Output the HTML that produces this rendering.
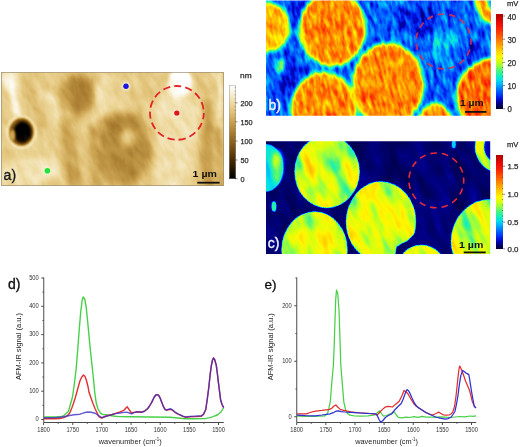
<!DOCTYPE html>
<html><head><meta charset="utf-8"><title>AFM-IR figure</title>
<style>
html,body{margin:0;padding:0;background:#fff;}
body{width:520px;height:447px;overflow:hidden;position:relative;}
svg{position:absolute;left:0;top:0;}
text{font-family:'Liberation Sans',Arial,sans-serif;}
</style></head><body>
<svg width="520" height="447" viewBox="0 0 520 447">
<defs>
<filter id="fA" filterUnits="userSpaceOnUse" x="-60" y="0" width="360" height="260" color-interpolation-filters="sRGB">
<feOffset in="SourceGraphic" dx="0" dy="0" result="bl"/>
<feTurbulence type="fractalNoise" baseFrequency="0.12 0.05" numOctaves="3" seed="7" result="nz"/>
<feColorMatrix in="nz" type="matrix" values="1 0 0 0 0  1 0 0 0 0  1 0 0 0 0  0 0 0 0 1" result="ng"/>
<feComposite in="bl" in2="ng" operator="arithmetic" k1="0" k2="1" k3="0.18" k4="-0.09" result="v"/>
<feComponentTransfer in="v"><feFuncR type="table" tableValues="0 0.14 0.28 0.42 0.55 0.67 0.78 0.87 0.93 0.97 1"/><feFuncG type="table" tableValues="0 0.08 0.17 0.28 0.39 0.5 0.62 0.74 0.84 0.93 1"/><feFuncB type="table" tableValues="0 0 0.02 0.06 0.12 0.2 0.3 0.44 0.6 0.8 1"/><feFuncA type="table" tableValues="1 1"/></feComponentTransfer>
</filter>
<filter id="fB" filterUnits="userSpaceOnUse" x="200" y="-100" width="360" height="320" color-interpolation-filters="sRGB">
<feGaussianBlur in="SourceGraphic" stdDeviation="2.1" result="bl"/>
<feTurbulence type="fractalNoise" baseFrequency="0.24 0.08" numOctaves="3" seed="3" result="nz"/>
<feColorMatrix in="nz" type="matrix" values="1 0 0 0 0  1 0 0 0 0  1 0 0 0 0  0 0 0 0 1" result="ng"/>
<feComposite in="bl" in2="ng" operator="arithmetic" k1="0.15" k2="0.93" k3="0.32" k4="-0.16" result="v"/>
<feComponentTransfer in="v"><feFuncR type="table" tableValues="0 0 0 0 0 0 0 0.1 0.3 0.6 0.85 1 1 1 1 1 1 0.98 0.93 0.82 0.68"/><feFuncG type="table" tableValues="0 0 0.05 0.25 0.45 0.68 0.88 0.95 0.95 1 1 0.97 0.85 0.7 0.55 0.4 0.25 0.12 0.05 0.02 0"/><feFuncB type="table" tableValues="0.2 0.5 0.85 1 1 1 0.92 0.7 0.5 0.25 0.05 0 0 0 0 0 0 0.02 0.03 0 0"/><feFuncA type="table" tableValues="1 1"/></feComponentTransfer>
</filter>
<filter id="fC" filterUnits="userSpaceOnUse" x="200" y="40" width="360" height="320" color-interpolation-filters="sRGB">
<feGaussianBlur in="SourceGraphic" stdDeviation="0.6" result="bl"/>
<feTurbulence type="fractalNoise" baseFrequency="0.07 0.025" numOctaves="3" seed="11" result="nz"/>
<feColorMatrix in="nz" type="matrix" values="1 0 0 0 0  1 0 0 0 0  1 0 0 0 0  0 0 0 0 1" result="ng"/>
<feComposite in="bl" in2="ng" operator="arithmetic" k1="0.7" k2="0.65" k3="0.05" k4="-0.03" result="v"/>
<feComponentTransfer in="v"><feFuncR type="table" tableValues="0 0 0 0 0 0 0 0.1 0.3 0.6 0.85 1 1 1 1 1 1 0.98 0.93 0.82 0.68"/><feFuncG type="table" tableValues="0 0 0.05 0.25 0.45 0.68 0.88 0.95 0.95 1 1 0.97 0.85 0.7 0.55 0.4 0.25 0.12 0.05 0.02 0"/><feFuncB type="table" tableValues="0.2 0.5 0.85 1 1 1 0.92 0.7 0.5 0.25 0.05 0 0 0 0 0 0 0.02 0.03 0 0"/><feFuncA type="table" tableValues="1 1"/></feComponentTransfer>
</filter>
<filter id="fCbA" x="0" y="0" width="1" height="1" color-interpolation-filters="sRGB">
<feOffset in="SourceGraphic" dx="0" dy="0" result="bl"/>
<feComponentTransfer in="bl"><feFuncR type="table" tableValues="0 0.14 0.28 0.42 0.55 0.67 0.78 0.87 0.93 0.97 1"/><feFuncG type="table" tableValues="0 0.08 0.17 0.28 0.39 0.5 0.62 0.74 0.84 0.93 1"/><feFuncB type="table" tableValues="0 0 0.02 0.06 0.12 0.2 0.3 0.44 0.6 0.8 1"/><feFuncA type="table" tableValues="1 1"/></feComponentTransfer>
</filter>
<filter id="fCbJ" x="0" y="0" width="1" height="1" color-interpolation-filters="sRGB">
<feOffset in="SourceGraphic" dx="0" dy="0" result="bl"/>
<feComponentTransfer in="bl"><feFuncR type="table" tableValues="0 0 0 0 0 0 0 0.1 0.3 0.6 0.85 1 1 1 1 1 1 0.98 0.93 0.82 0.68"/><feFuncG type="table" tableValues="0 0 0.05 0.25 0.45 0.68 0.88 0.95 0.95 1 1 0.97 0.85 0.7 0.55 0.4 0.25 0.12 0.05 0.02 0"/><feFuncB type="table" tableValues="0.2 0.5 0.85 1 1 1 0.92 0.7 0.5 0.25 0.05 0 0 0 0 0 0 0.02 0.03 0 0"/><feFuncA type="table" tableValues="1 1"/></feComponentTransfer>
</filter>
<filter id="b1" x="-50%" y="-50%" width="200%" height="200%" color-interpolation-filters="sRGB"><feGaussianBlur stdDeviation="1"/></filter>
<filter id="b2" x="-50%" y="-50%" width="200%" height="200%" color-interpolation-filters="sRGB"><feGaussianBlur stdDeviation="2"/></filter>
<filter id="b3" x="-50%" y="-50%" width="200%" height="200%" color-interpolation-filters="sRGB"><feGaussianBlur stdDeviation="3"/></filter>
<filter id="b5" x="-50%" y="-50%" width="200%" height="200%" color-interpolation-filters="sRGB"><feGaussianBlur stdDeviation="5"/></filter>
<linearGradient id="vg" x1="0" y1="0" x2="0" y2="1"><stop offset="0" stop-color="#fff"/><stop offset="1" stop-color="#000"/></linearGradient>
<clipPath id="clipA"><rect x="1" y="72" width="223" height="114"/></clipPath>
<clipPath id="clipB"><rect x="266" y="0.6" width="224.8" height="115.1"/></clipPath>
<clipPath id="clipC"><rect x="266" y="141.3" width="224.2" height="112.8"/></clipPath>
</defs>
<g clip-path="url(#clipA)"><g filter="url(#fA)" transform="rotate(-25 112 129)"><g transform="rotate(25 112 129)">
<rect x="-10" y="60" width="250" height="140" fill="#c2c2c2"/>
<ellipse cx="12" cy="80" rx="13" ry="10" fill="#e0e0e0" filter="url(#b3)"/>
<path d="M4 72 L11 72 L22 116 L15 116 Z" fill="#f2f2f2" filter="url(#b2)"/>
<path d="M20 72 L32 72 L44 130 L32 130 Z" fill="#b2b2b2" filter="url(#b3)"/>
<path d="M44 92 L54 92 L68 136 L58 136 Z" fill="#d6d6d6" filter="url(#b3)"/>
<ellipse cx="79" cy="95" rx="17" ry="21" fill="#878787" filter="url(#b5)"/>
<ellipse cx="85" cy="90" rx="7" ry="10" fill="#808080" filter="url(#b3)"/>
<ellipse cx="104" cy="98" rx="8" ry="24" fill="#d6d6d6" filter="url(#b3)"/>
<ellipse cx="118" cy="122" rx="20" ry="9" fill="#9e9e9e" filter="url(#b3)"/>
<ellipse cx="124" cy="150" rx="27" ry="36" fill="#878787" filter="url(#b5)"/>
<ellipse cx="128" cy="138" rx="7" ry="9" fill="#c7c7c7" filter="url(#b3)"/>
<path d="M60 118 L72 118 L82 190 L68 190 Z" fill="#999999" filter="url(#b3)"/>
<path d="M88 126 L98 126 L104 190 L92 190 Z" fill="#999999" filter="url(#b3)"/>
<path d="M200 100 L212 100 L216 190 L202 190 Z" fill="#999999" filter="url(#b3)"/>
<path d="M214 128 L222 128 L226 190 L216 190 Z" fill="#a3a3a3" filter="url(#b2)"/>
<path d="M218 72 L222 72 L222 118 L218 118 Z" fill="#dbdbdb" filter="url(#b1)"/>
<ellipse cx="178" cy="118" rx="24" ry="26" fill="#d6d6d6" filter="url(#b5)"/>
<path d="M156 128 L192 128 L192 190 L156 190 Z" fill="#d4d4d4" filter="url(#b3)"/>
<ellipse cx="24" cy="172" rx="26" ry="15" fill="#d6d6d6" filter="url(#b3)"/>
<ellipse cx="46" cy="168" rx="12" ry="12" fill="#e0e0e0" filter="url(#b3)"/>
<ellipse cx="180" cy="90" rx="14" ry="10" fill="#e0e0e0" filter="url(#b3)"/>
<ellipse cx="180" cy="83" rx="11.5" ry="13" fill="#ffffff" filter="url(#b2)"/>
<ellipse cx="180" cy="80" rx="10" ry="12" fill="#ffffff" filter="url(#b1)"/>
<ellipse cx="21.5" cy="132" rx="15" ry="16.5" fill="#ebebeb" filter="url(#b1)"/>
<ellipse cx="21.5" cy="132" rx="12.3" ry="14" fill="#545454" filter="url(#b1)"/>
<ellipse cx="22.5" cy="132.3" rx="9" ry="10.5" fill="#050505" filter="url(#b1)"/>
<ellipse cx="12.5" cy="135" rx="2.8" ry="5.5" fill="#a8a8a8" filter="url(#b1)"/>
</g></g></g>
<rect x="1.5" y="72.5" width="222" height="113" fill="none" stroke="#9a8c70" stroke-width="0.9" opacity="0.75"/>
<circle cx="176.9" cy="112.9" r="26.9" fill="none" stroke="#e42228" stroke-width="1.8" stroke-dasharray="7.21 4.06" stroke-dashoffset="0.79"/>
<circle cx="176.8" cy="113" r="4.6" fill="#fff0e4" opacity="0.55" filter="url(#b1)"/>
<circle cx="126" cy="86.3" r="4.6" fill="#fffaea" opacity="0.6" filter="url(#b1)"/>
<circle cx="47.4" cy="170.8" r="4.8" fill="#f4f8d0" opacity="0.55" filter="url(#b1)"/>
<circle cx="176.8" cy="113" r="2.6" fill="#e01414"/>
<circle cx="126" cy="86.3" r="2.7" fill="#1616e0"/>
<circle cx="47.4" cy="170.8" r="2.8" fill="#22e23e"/>
<text x="3.6" y="179.8" font-size="14" fill="#1a1a1a" stroke="#1a1a1a" stroke-width="0.35">a)</text>
<text x="192.6" y="177.3" font-size="9.4" fill="#111" textLength="24.3" lengthAdjust="spacingAndGlyphs" font-weight="bold">1 µm</text>
<rect x="197.3" y="181.8" width="22.3" height="1.8" fill="#111"/>
<rect x="229.5" y="85.7" width="6" height="93" fill="url(#vg)" filter="url(#fCbA)"/>
<rect x="229.5" y="85.7" width="6" height="93" fill="none" stroke="#999" stroke-width="0.5"/>
<line x1="235.2" x2="235.2" y1="87" y2="178" stroke="#555" stroke-width="0.8" stroke-dasharray="0.8 3" opacity="0.7"/>
<text x="240.1" y="77.8" font-size="7.5" fill="#2a2a2a" textLength="11.6" lengthAdjust="spacingAndGlyphs" stroke="#2a2a2a" stroke-width="0.25">nm</text>
<text x="240.4" y="105.9" font-size="7.6" fill="#2a2a2a" textLength="12.21" lengthAdjust="spacingAndGlyphs" stroke="#2a2a2a" stroke-width="0.25">200</text>
<line x1="235.5" x2="237.5" y1="102.8" y2="102.8" stroke="#555" stroke-width="0.7"/>
<text x="240.4" y="124.9" font-size="7.6" fill="#2a2a2a" textLength="12.21" lengthAdjust="spacingAndGlyphs" stroke="#2a2a2a" stroke-width="0.25">150</text>
<line x1="235.5" x2="237.5" y1="121.8" y2="121.8" stroke="#555" stroke-width="0.7"/>
<text x="240.4" y="144.2" font-size="7.6" fill="#2a2a2a" textLength="12.21" lengthAdjust="spacingAndGlyphs" stroke="#2a2a2a" stroke-width="0.25">100</text>
<line x1="235.5" x2="237.5" y1="141.1" y2="141.1" stroke="#555" stroke-width="0.7"/>
<text x="240.4" y="163.1" font-size="7.6" fill="#2a2a2a" textLength="8.14" lengthAdjust="spacingAndGlyphs" stroke="#2a2a2a" stroke-width="0.25">50</text>
<line x1="235.5" x2="237.5" y1="160" y2="160" stroke="#555" stroke-width="0.7"/>
<text x="240.4" y="181.8" font-size="7.6" fill="#2a2a2a" textLength="4.07" lengthAdjust="spacingAndGlyphs" stroke="#2a2a2a" stroke-width="0.25">0</text>
<line x1="235.5" x2="237.5" y1="178.7" y2="178.7" stroke="#555" stroke-width="0.7"/>
<g clip-path="url(#clipB)"><g filter="url(#fB)" transform="rotate(-12 378 58)"><g transform="rotate(12 378 58)">
<rect x="250" y="-10" width="260" height="140" fill="#2e2e2e"/>
<ellipse cx="290" cy="80" rx="12" ry="25" fill="#1a1a1a" filter="url(#b3)"/>
<ellipse cx="300" cy="10" rx="10" ry="14" fill="#1c1c1c" filter="url(#b3)"/>
<ellipse cx="420" cy="20" rx="20" ry="14" fill="#1c1c1c" filter="url(#b3)"/>
<ellipse cx="445" cy="45" rx="16" ry="18" fill="#424242" filter="url(#b5)"/>
<ellipse cx="470" cy="60" rx="10" ry="20" fill="#1f1f1f" filter="url(#b3)"/>
<ellipse cx="280.5" cy="66" rx="3" ry="6.5" fill="#a3a3a3" />
<ellipse cx="267.5" cy="27.2" rx="22" ry="24.5" fill="#a1a1a1" />
<ellipse cx="332.5" cy="29" rx="33" ry="37" fill="#b2b2b2" />
<ellipse cx="388" cy="85" rx="35.2" ry="41.8" fill="#b2b2b2" />
<ellipse cx="323.4" cy="109.4" rx="32.3" ry="37" fill="#b2b2b2" />
<ellipse cx="495" cy="96" rx="38.5" ry="37.5" fill="#bdbdbd" />
<ellipse cx="435" cy="130" rx="18.5" ry="26.5" fill="#b2b2b2" />
<ellipse cx="501.5" cy="0" rx="25.5" ry="26" fill="#bababa" />
<ellipse cx="502" cy="-2" rx="15.5" ry="19" fill="#333333" />
</g></g></g>
<circle cx="443.6" cy="41.4" r="27.4" fill="none" stroke="#d83048" stroke-width="1.7" stroke-dasharray="6.54 4.94" stroke-dashoffset="3.27" opacity="0.9"/>
<text x="268.5" y="110" font-size="14" fill="#eef2ff" stroke="#eef2ff" stroke-width="0.4">b)</text>
<text x="460" y="106.4" font-size="9.4" fill="#111" textLength="23.7" lengthAdjust="spacingAndGlyphs" font-weight="bold">1 µm</text>
<rect x="465" y="111" width="21.5" height="1.8" fill="#111"/>
<rect x="496.2" y="14" width="6.7" height="94.5" fill="url(#vg)" filter="url(#fCbJ)"/>
<line x1="502.6" x2="502.6" y1="16" y2="108.8" stroke="#444" stroke-width="0.9" stroke-dasharray="0.9 3.74" opacity="0.8"/>
<text x="507" y="6.4" font-size="7.3" fill="#2a2a2a" textLength="11.4" lengthAdjust="spacingAndGlyphs" stroke="#2a2a2a" stroke-width="0.25">mV</text>
<text x="507.5" y="19.5" font-size="8.3" fill="#2a2a2a" textLength="8.7" lengthAdjust="spacingAndGlyphs" stroke="#2a2a2a" stroke-width="0.25">40</text>
<line x1="503.2" x2="505" y1="16" y2="16" stroke="#555" stroke-width="0.7"/>
<text x="507.5" y="42.7" font-size="8.3" fill="#2a2a2a" textLength="8.7" lengthAdjust="spacingAndGlyphs" stroke="#2a2a2a" stroke-width="0.25">30</text>
<line x1="503.2" x2="505" y1="39.2" y2="39.2" stroke="#555" stroke-width="0.7"/>
<text x="507.5" y="65.9" font-size="8.3" fill="#2a2a2a" textLength="8.7" lengthAdjust="spacingAndGlyphs" stroke="#2a2a2a" stroke-width="0.25">20</text>
<line x1="503.2" x2="505" y1="62.4" y2="62.4" stroke="#555" stroke-width="0.7"/>
<text x="507.5" y="89.1" font-size="8.3" fill="#2a2a2a" textLength="8.7" lengthAdjust="spacingAndGlyphs" stroke="#2a2a2a" stroke-width="0.25">10</text>
<line x1="503.2" x2="505" y1="85.6" y2="85.6" stroke="#555" stroke-width="0.7"/>
<text x="507.5" y="112.3" font-size="8.3" fill="#2a2a2a" textLength="4.35" lengthAdjust="spacingAndGlyphs" stroke="#2a2a2a" stroke-width="0.25">0</text>
<line x1="503.2" x2="505" y1="108.8" y2="108.8" stroke="#555" stroke-width="0.7"/>
<g clip-path="url(#clipC)"><g filter="url(#fC)" transform="rotate(-22 378 197)"><g transform="rotate(22 378 197)">
<rect x="250" y="130" width="260" height="140" fill="#0b0b0b"/>
<ellipse cx="300" cy="200" rx="14" ry="20" fill="#0a0a0a" filter="url(#b3)"/>
<ellipse cx="440" cy="215" rx="14" ry="20" fill="#0d0d0d" filter="url(#b3)"/>
<ellipse cx="274" cy="206.4" rx="2.4" ry="5.2" fill="#5c5c5c" />
<ellipse cx="453.8" cy="144.3" rx="2.2" ry="4" fill="#4c4c4c" />
<ellipse cx="265.7" cy="167.9" rx="17.8" ry="23.9" fill="#545454" />
<ellipse cx="277" cy="166" rx="5" ry="16" fill="#7a7a7a" filter="url(#b2)"/>
<ellipse cx="327" cy="171.6" rx="32.5" ry="36.2" fill="#828282" />
<ellipse cx="381" cy="221.6" rx="35" ry="40" fill="#828282" />
<path d="M415 233 L422 238 L412 256 L395 256 L396.5 247 L402 243.5 L407 241 Z" fill="#0b0b0b" />
<ellipse cx="314.5" cy="249.7" rx="33" ry="38" fill="#828282" />
<ellipse cx="491" cy="241" rx="40" ry="42" fill="#828282" />
<ellipse cx="421.5" cy="271" rx="25" ry="26" fill="#828282" />
<ellipse cx="501" cy="147" rx="26" ry="26" fill="#6e6e6e" />
<ellipse cx="501" cy="147" rx="17" ry="17" fill="#121212" />
</g></g></g>
<circle cx="436.3" cy="180.4" r="27.4" fill="none" stroke="#e82a3a" stroke-width="1.6" stroke-dasharray="6.54 4.94" stroke-dashoffset="3.27" opacity="1"/>
<text x="267.8" y="247.9" font-size="14" fill="#eef2ff" stroke="#eef2ff" stroke-width="0.4">c)</text>
<text x="459" y="247.6" font-size="9.4" fill="#111" textLength="24.3" lengthAdjust="spacingAndGlyphs" font-weight="bold">1 µm</text>
<rect x="463.7" y="251.5" width="22" height="1.8" fill="#111"/>
<rect x="496.2" y="155" width="6.7" height="94" fill="url(#vg)" filter="url(#fCbJ)"/>
<line x1="502.6" x2="502.6" y1="166.1" y2="248.8" stroke="#444" stroke-width="0.9" stroke-dasharray="0.9 4.6" opacity="0.8"/>
<text x="507" y="147.4" font-size="7.3" fill="#2a2a2a" textLength="11.4" lengthAdjust="spacingAndGlyphs" stroke="#2a2a2a" stroke-width="0.25">mV</text>
<text x="507.5" y="168.9" font-size="7.6" fill="#2a2a2a" textLength="11" lengthAdjust="spacingAndGlyphs" stroke="#2a2a2a" stroke-width="0.25">1.5</text>
<line x1="503.2" x2="505" y1="166.2" y2="166.2" stroke="#555" stroke-width="0.7"/>
<text x="507.5" y="197" font-size="7.6" fill="#2a2a2a" textLength="11" lengthAdjust="spacingAndGlyphs" stroke="#2a2a2a" stroke-width="0.25">1.0</text>
<line x1="503.2" x2="505" y1="194.3" y2="194.3" stroke="#555" stroke-width="0.7"/>
<text x="507.5" y="224.9" font-size="7.6" fill="#2a2a2a" textLength="11" lengthAdjust="spacingAndGlyphs" stroke="#2a2a2a" stroke-width="0.25">0.5</text>
<line x1="503.2" x2="505" y1="222.2" y2="222.2" stroke="#555" stroke-width="0.7"/>
<text x="507.5" y="251.5" font-size="7.6" fill="#2a2a2a" textLength="11" lengthAdjust="spacingAndGlyphs" stroke="#2a2a2a" stroke-width="0.25">0.0</text>
<line x1="503.2" x2="505" y1="248.8" y2="248.8" stroke="#555" stroke-width="0.7"/>
<line x1="43.75" y1="277.5" x2="43.75" y2="422.5" stroke="#4a4a4a" stroke-width="1"/>
<line x1="43.75" y1="422.5" x2="223.75" y2="422.5" stroke="#4a4a4a" stroke-width="1"/>
<line x1="41.25" y1="419.5" x2="43.75" y2="419.5" stroke="#4a4a4a" stroke-width="1"/>
<text x="38.75" y="421.3" font-size="6.8" fill="#333" textLength="3.2" lengthAdjust="spacingAndGlyphs" text-anchor="end">0</text>
<line x1="41.25" y1="391.2" x2="43.75" y2="391.2" stroke="#4a4a4a" stroke-width="1"/>
<text x="38.75" y="393" font-size="6.8" fill="#333" textLength="9.6" lengthAdjust="spacingAndGlyphs" text-anchor="end">100</text>
<line x1="41.25" y1="362.9" x2="43.75" y2="362.9" stroke="#4a4a4a" stroke-width="1"/>
<text x="38.75" y="364.7" font-size="6.8" fill="#333" textLength="9.6" lengthAdjust="spacingAndGlyphs" text-anchor="end">200</text>
<line x1="41.25" y1="334.6" x2="43.75" y2="334.6" stroke="#4a4a4a" stroke-width="1"/>
<text x="38.75" y="336.4" font-size="6.8" fill="#333" textLength="9.6" lengthAdjust="spacingAndGlyphs" text-anchor="end">300</text>
<line x1="41.25" y1="306.3" x2="43.75" y2="306.3" stroke="#4a4a4a" stroke-width="1"/>
<text x="38.75" y="308.1" font-size="6.8" fill="#333" textLength="9.6" lengthAdjust="spacingAndGlyphs" text-anchor="end">400</text>
<line x1="41.25" y1="278" x2="43.75" y2="278" stroke="#4a4a4a" stroke-width="1"/>
<text x="38.75" y="279.8" font-size="6.8" fill="#333" textLength="9.6" lengthAdjust="spacingAndGlyphs" text-anchor="end">500</text>
<line x1="42.45" y1="405.35" x2="43.75" y2="405.35" stroke="#4a4a4a" stroke-width="1"/>
<line x1="42.45" y1="377.05" x2="43.75" y2="377.05" stroke="#4a4a4a" stroke-width="1"/>
<line x1="42.45" y1="348.75" x2="43.75" y2="348.75" stroke="#4a4a4a" stroke-width="1"/>
<line x1="42.45" y1="320.45" x2="43.75" y2="320.45" stroke="#4a4a4a" stroke-width="1"/>
<line x1="42.45" y1="292.15" x2="43.75" y2="292.15" stroke="#4a4a4a" stroke-width="1"/>
<line x1="43.6" y1="422.5" x2="43.6" y2="425.0" stroke="#4a4a4a" stroke-width="1"/>
<text x="43.6" y="432.2" font-size="6.5" fill="#333" textLength="12.72" lengthAdjust="spacingAndGlyphs" text-anchor="middle">1800</text>
<line x1="72.75" y1="422.5" x2="72.75" y2="425.0" stroke="#4a4a4a" stroke-width="1"/>
<text x="72.75" y="432.2" font-size="6.5" fill="#333" textLength="12.72" lengthAdjust="spacingAndGlyphs" text-anchor="middle">1750</text>
<line x1="101.91" y1="422.5" x2="101.91" y2="425.0" stroke="#4a4a4a" stroke-width="1"/>
<text x="101.91" y="432.2" font-size="6.5" fill="#333" textLength="12.72" lengthAdjust="spacingAndGlyphs" text-anchor="middle">1700</text>
<line x1="131.06" y1="422.5" x2="131.06" y2="425.0" stroke="#4a4a4a" stroke-width="1"/>
<text x="131.06" y="432.2" font-size="6.5" fill="#333" textLength="12.72" lengthAdjust="spacingAndGlyphs" text-anchor="middle">1650</text>
<line x1="160.22" y1="422.5" x2="160.22" y2="425.0" stroke="#4a4a4a" stroke-width="1"/>
<text x="160.22" y="432.2" font-size="6.5" fill="#333" textLength="12.72" lengthAdjust="spacingAndGlyphs" text-anchor="middle">1600</text>
<line x1="189.37" y1="422.5" x2="189.37" y2="425.0" stroke="#4a4a4a" stroke-width="1"/>
<text x="189.37" y="432.2" font-size="6.5" fill="#333" textLength="12.72" lengthAdjust="spacingAndGlyphs" text-anchor="middle">1550</text>
<line x1="218.53" y1="422.5" x2="218.53" y2="425.0" stroke="#4a4a4a" stroke-width="1"/>
<text x="218.53" y="432.2" font-size="6.5" fill="#333" textLength="12.72" lengthAdjust="spacingAndGlyphs" text-anchor="middle">1500</text>
<line x1="58.18" y1="422.5" x2="58.18" y2="423.8" stroke="#4a4a4a" stroke-width="1"/>
<line x1="87.33" y1="422.5" x2="87.33" y2="423.8" stroke="#4a4a4a" stroke-width="1"/>
<line x1="116.49" y1="422.5" x2="116.49" y2="423.8" stroke="#4a4a4a" stroke-width="1"/>
<line x1="145.64" y1="422.5" x2="145.64" y2="423.8" stroke="#4a4a4a" stroke-width="1"/>
<line x1="174.8" y1="422.5" x2="174.8" y2="423.8" stroke="#4a4a4a" stroke-width="1"/>
<line x1="203.95" y1="422.5" x2="203.95" y2="423.8" stroke="#4a4a4a" stroke-width="1"/>
<text x="8" y="288.5" font-size="14" fill="#111" stroke="#111" stroke-width="0.35">d)</text>
<text transform="translate(21.4,346.5) rotate(-90)" font-size="8.1" fill="#1e1e1e" text-anchor="middle" textLength="67" lengthAdjust="spacingAndGlyphs">AFM-IR signal (a.u.)</text>
<text transform="translate(130.2,444.3) scale(0.91,1)" font-size="8.1" fill="#1e1e1e" text-anchor="middle">wavenumber (cm<tspan font-size="4.8" dy="-3.2">-1</tspan><tspan dy="3.2">)</tspan></text>
<polyline points="44,417 55,417 61,416.8 64.5,415 68.5,411.3 70.2,405 72.5,397 74.2,385 76.2,368.5 77.7,350 79.2,330 80.7,312 82.2,300 83.2,297 84.7,299 86.2,307 87.7,322 89.6,342 91.2,358 93.4,378 94.7,392 96.2,402.8 98,409 100.5,413.2 103,414.6 106,414.6 110,415.5 115,416.2 120,416.6 130,416.8 150,417 170,417.2 178,418 185,418.7 195,418.8 205,418.6 210,417.6 213,416.6 216,415.5 218,414.5 221,412 223.7,407.7" fill="none" stroke="#48d048" stroke-width="1.4" stroke-linejoin="round"/>
<polyline points="44,418.8 55,418.8 60,418.5 63.5,417.6 66.6,416.3 68.5,414.5 70,412.5 71.8,408 73.4,403.5 75.2,398 76.8,392.3 78.5,386 80.1,380.5 81.8,377 83.5,375 85,376.5 86.3,380 88,386.5 89,392.3 91,398 93,403.5 95,408.5 96.9,412.5 99,416.8 101.8,418 104,417 108,415.5 112,414.5 116,413.2 120,411.8 123.7,410.4 125.5,408.5 127.2,406.8 129,409.5 131.6,413 134,412.4 137,411.8 142.2,412 145,410.8 147.5,408.8 149.5,406 151.7,402.4 154,397.5 155.8,395 157,394.6 158.5,395.2 160.2,398.2 161.8,402.5 163.4,406.6 165,409.2 166.5,410.2 168.5,409.8 170.8,409.4 172.8,410.5 175,412.3 177.5,413.8 180.3,415.2 183,416.4 185.6,417.3 190,416.8 195,416.6 201.4,416.2 203.5,414.5 205.7,409.8 207.3,399 208.9,386.5 210.2,374 211.4,365.4 212.5,360 213.5,358 214.8,360 216.3,365.4 217.3,373 218.4,382.3 219.5,391 220.5,399.2 222,404.5 223.7,407.7" fill="none" stroke="#e03030" stroke-width="1.4" stroke-linejoin="round"/>
<polyline points="44,417.8 55,417.6 62,417 68.5,415.7 74,414.8 80,414.2 84,412.8 87.6,412 91,412.3 95,413.2 98.5,415.5 101.8,417.6 104,416.8 108,415.8 112,414.6 116,413.6 120,413 124,412.4 127.2,412.3 129.5,413 131.6,413.8 134,412.6 137,411.9 142.2,412.2 145,410.8 147.5,408.8 149.5,406 151.7,402.4 154,397.5 155.8,395 157,394.6 158.5,395.2 160.2,398.2 161.8,402.5 163.4,406.6 165,409.6 166.5,410.2 168.5,409.2 170.8,408.8 172.8,410 175,412 177.5,413.5 180.3,415 183,416.2 185.6,417 190,416.4 195,416.1 201.4,415.8 203.5,414 205.7,409.5 207.3,399 208.9,386.5 210.2,374 211.4,365.4 212.5,360 213.5,358 214.8,360 216.3,365.4 217.3,373 218.4,382.3 219.5,391 220.5,399.2 222,404.5 223.7,407.7" fill="none" stroke="#3a2cc4" stroke-width="1.4" stroke-linejoin="round" opacity="0.78"/>
<line x1="296.75" y1="277.5" x2="296.75" y2="422.5" stroke="#4a4a4a" stroke-width="1"/>
<line x1="296.75" y1="422.5" x2="476.25" y2="422.5" stroke="#4a4a4a" stroke-width="1"/>
<line x1="294.25" y1="416.75" x2="296.75" y2="416.75" stroke="#4a4a4a" stroke-width="1"/>
<text x="291.75" y="418.55" font-size="6.8" fill="#333" textLength="3.2" lengthAdjust="spacingAndGlyphs" text-anchor="end">0</text>
<line x1="294.25" y1="361.25" x2="296.75" y2="361.25" stroke="#4a4a4a" stroke-width="1"/>
<text x="291.75" y="363.05" font-size="6.8" fill="#333" textLength="9.6" lengthAdjust="spacingAndGlyphs" text-anchor="end">100</text>
<line x1="294.25" y1="305.75" x2="296.75" y2="305.75" stroke="#4a4a4a" stroke-width="1"/>
<text x="291.75" y="307.55" font-size="6.8" fill="#333" textLength="9.6" lengthAdjust="spacingAndGlyphs" text-anchor="end">200</text>
<line x1="295.45" y1="389" x2="296.75" y2="389" stroke="#4a4a4a" stroke-width="1"/>
<line x1="295.45" y1="333.5" x2="296.75" y2="333.5" stroke="#4a4a4a" stroke-width="1"/>
<line x1="295.45" y1="278" x2="296.75" y2="278" stroke="#4a4a4a" stroke-width="1"/>
<line x1="296.7" y1="422.5" x2="296.7" y2="425.0" stroke="#4a4a4a" stroke-width="1"/>
<text x="296.7" y="432.2" font-size="6.5" fill="#333" textLength="12.72" lengthAdjust="spacingAndGlyphs" text-anchor="middle">1800</text>
<line x1="325.83" y1="422.5" x2="325.83" y2="425.0" stroke="#4a4a4a" stroke-width="1"/>
<text x="325.83" y="432.2" font-size="6.5" fill="#333" textLength="12.72" lengthAdjust="spacingAndGlyphs" text-anchor="middle">1750</text>
<line x1="354.97" y1="422.5" x2="354.97" y2="425.0" stroke="#4a4a4a" stroke-width="1"/>
<text x="354.97" y="432.2" font-size="6.5" fill="#333" textLength="12.72" lengthAdjust="spacingAndGlyphs" text-anchor="middle">1700</text>
<line x1="384.11" y1="422.5" x2="384.11" y2="425.0" stroke="#4a4a4a" stroke-width="1"/>
<text x="384.11" y="432.2" font-size="6.5" fill="#333" textLength="12.72" lengthAdjust="spacingAndGlyphs" text-anchor="middle">1650</text>
<line x1="413.24" y1="422.5" x2="413.24" y2="425.0" stroke="#4a4a4a" stroke-width="1"/>
<text x="413.24" y="432.2" font-size="6.5" fill="#333" textLength="12.72" lengthAdjust="spacingAndGlyphs" text-anchor="middle">1600</text>
<line x1="442.38" y1="422.5" x2="442.38" y2="425.0" stroke="#4a4a4a" stroke-width="1"/>
<text x="442.38" y="432.2" font-size="6.5" fill="#333" textLength="12.72" lengthAdjust="spacingAndGlyphs" text-anchor="middle">1550</text>
<line x1="471.51" y1="422.5" x2="471.51" y2="425.0" stroke="#4a4a4a" stroke-width="1"/>
<text x="471.51" y="432.2" font-size="6.5" fill="#333" textLength="12.72" lengthAdjust="spacingAndGlyphs" text-anchor="middle">1500</text>
<line x1="311.27" y1="422.5" x2="311.27" y2="423.8" stroke="#4a4a4a" stroke-width="1"/>
<line x1="340.4" y1="422.5" x2="340.4" y2="423.8" stroke="#4a4a4a" stroke-width="1"/>
<line x1="369.54" y1="422.5" x2="369.54" y2="423.8" stroke="#4a4a4a" stroke-width="1"/>
<line x1="398.67" y1="422.5" x2="398.67" y2="423.8" stroke="#4a4a4a" stroke-width="1"/>
<line x1="427.81" y1="422.5" x2="427.81" y2="423.8" stroke="#4a4a4a" stroke-width="1"/>
<line x1="456.94" y1="422.5" x2="456.94" y2="423.8" stroke="#4a4a4a" stroke-width="1"/>
<text x="264.5" y="289.2" font-size="13.5" fill="#111" stroke="#111" stroke-width="0.35">e)</text>
<text transform="translate(273.1,346.7) rotate(-90)" font-size="8.1" fill="#1e1e1e" text-anchor="middle" textLength="67" lengthAdjust="spacingAndGlyphs">AFM-IR signal (a.u.)</text>
<text transform="translate(386.6,444.3) scale(0.91,1)" font-size="8.1" fill="#1e1e1e" text-anchor="middle">wavenumber (cm<tspan font-size="4.8" dy="-3.2">-1</tspan><tspan dy="3.2">)</tspan></text>
<polyline points="297,416.2 310,416.4 320,416.2 325,415.8 327.5,413.5 328.5,410 329.5,405 330.3,401.9 331.2,390 332.2,378 333.4,365 334.2,345 335,320 335.7,300 336.5,290 337.8,294 339,310 340,340 340.8,365 342,380 343.8,401.9 345.7,410 347.5,413.5 349.8,415.2 355,416 360,416.2 368,415.8 375,415 377.5,412.5 379.6,410.8 381.5,413.5 383.5,416.2 386.5,415.5 389.6,414 392,413 394.4,412.1 396.3,415 398.3,417.3 402,417.8 406,417.2 410,417.5 414,416.6 418,417.3 422,416.4 426,417.2 430,417 435,417.4 440,416.8 445,417.2 450,417.5 455,417 460,416.5 465,416.8 470,416 473,416.3 476,415.8" fill="none" stroke="#48d048" stroke-width="1.25" stroke-linejoin="round"/>
<polyline points="297,413.8 306.5,413.8 310,412.5 314.2,411.3 318,410.8 322,410.4 326,409.9 329.6,409.4 332,408 334,406 335.8,405 337.8,407 340.2,409.4 343,410.2 346,410.8 351,411.8 356.5,412.7 362,413 368,413.3 373,414 377.7,414.6 380,412 382.5,409.4 385,407.2 387.7,406.3 390,406.6 392.5,407 395.4,404.4 399.2,401.2 401.8,396 404,390.4 406,391.8 407.9,393.8 410.8,398.8 413.7,403.5 416,406 418.5,407.7 422,410 426.2,412.7 429.5,414 432.9,415 436,413.5 438.7,412.1 441,413.5 443.5,415 446,415.2 449.2,415 451,414 452.7,412.1 454,408.5 455,403.5 456,396 456.9,388 457.7,380 458.5,372.7 459.2,368 459.8,366 461.2,369 462.7,372.7 464.2,377 465.6,381.3 467.5,385.5 469.4,390 471,396 472.3,401.5 473.8,405 475.2,407.3 476,407.8" fill="none" stroke="#e03030" stroke-width="1.25" stroke-linejoin="round"/>
<polyline points="297,415.2 305,415.6 315,415.8 322,415 330,413.8 334,412.3 336,411.2 338.3,410.8 341,411.6 345,412 350,412.3 355,412.7 360,413 365,413.3 370,413.5 375.8,413.8 377.5,416 379,419.5 380.6,422 382.5,421 385.4,417.5 388,415.8 391.5,414 393.5,411.5 395.4,409.2 398,406.5 401.2,403.5 402.8,400 404,396.7 405.5,392.5 407,389.6 408.5,390.8 409.8,392.9 412,398 414.6,403.5 416.5,406 418.5,407.7 422,410 426.2,412.7 431,415 435.8,417 440,418.2 445.4,419.2 448,418.6 451.2,417 453,414.5 455,411.2 456.5,404 457.9,395.8 459.3,385 460.8,375.6 462.7,370.4 464.2,371.5 465.6,372.7 467.2,373.6 468.8,374.6 469.6,379 470.4,384.2 471.3,390 472.3,395.8 473.3,401 474.2,406.3 476,408" fill="none" stroke="#3030d0" stroke-width="1.25" stroke-linejoin="round"/>
</svg>
</body></html>
